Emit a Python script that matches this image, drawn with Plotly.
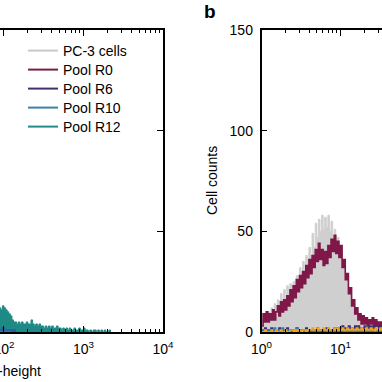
import plotly.graph_objects as go

# ---------------- data ----------------
# Panel b: log10 positions of histogram channels (left bin edges)
b_log_bins = [0.00, 0.02, 0.04, 0.06, 0.08, 0.10, 0.12, 0.14, 0.16, 0.18,
              0.20, 0.22, 0.24, 0.26, 0.28, 0.30, 0.32, 0.34, 0.36, 0.38,
              0.40, 0.42, 0.44, 0.46, 0.48, 0.50, 0.52, 0.54, 0.56, 0.58,
              0.60, 0.62, 0.64, 0.66, 0.68, 0.70, 0.72, 0.74, 0.76, 0.78,
              0.80, 0.82, 0.84, 0.86, 0.88, 0.90, 0.92, 0.94, 0.96, 0.98,
              1.00, 1.02, 1.04, 1.06, 1.08, 1.10, 1.12, 1.14, 1.16, 1.18,
              1.20, 1.22, 1.24, 1.26, 1.28, 1.30, 1.32, 1.34, 1.36, 1.38,
              1.40, 1.42, 1.44, 1.46, 1.48, 1.50, 1.52, 1.54]

b_pc3 = [6, 3, 8, 4, 10, 5, 12, 7, 14, 9,
         16, 11, 19, 13, 21, 15, 23, 17, 24, 19,
         25, 20, 28, 23, 32, 26, 35, 29, 38, 32,
         42, 37, 49, 42, 54, 47, 56, 50, 58, 51,
         57, 52, 58, 50, 55, 47, 51, 43, 47, 39,
         43, 34, 35, 26, 28, 20, 21, 13, 14, 9,
         11, 6, 8, 4, 7, 3, 6, 3, 5, 2,
         4, 2, 3, 2, 3, 2, 3, 2]

b_r0 = [3, 9, 5, 10, 5, 9, 6, 11, 6, 10,
        13, 8, 15, 10, 16, 11, 18, 13, 21, 15,
        23, 17, 26, 20, 28, 22, 30, 24, 33, 27,
        36, 29, 38, 32, 41, 35, 44, 36, 41, 33,
        40, 34, 43, 37, 46, 40, 48, 39, 45, 37,
        43, 32, 36, 26, 29, 19, 22, 13, 16, 9,
        12, 6, 9, 4, 8, 4, 7, 3, 6, 4,
        7, 3, 6, 3, 5, 3, 5, 3]

b_r6 = [1, 0, 2, 1, 0, 1, 2, 0, 1, 1,
        0, 2, 1, 0, 1, 0, 2, 1, 0, 1,
        1, 0, 2, 0, 1, 1, 0, 1, 2, 0,
        1, 0, 1, 1, 0, 2, 1, 0, 1, 0,
        1, 2, 1, 0, 1, 1, 2, 1, 2, 1,
        2, 3, 2, 1, 2, 3, 2, 1, 2, 3,
        2, 3, 2, 1, 2, 3, 2, 2, 3, 2,
        3, 2, 3, 3, 2, 3, 2, 3]

b_r10 = [0, 1, 0, 0, 1, 0, 0, 1, 2, 0,
         0, 1, 0, 2, 1, 0, 0, 1, 0, 0,
         1, 0, 2, 0, 1, 0, 0, 1, 0, 1,
         0, 0, 1, 0, 0, 1, 0, 1, 0, 0,
         1, 0, 0, 1, 0, 0, 1, 0, 1, 0,
         0, 1, 0, 0, 1, 0, 1, 0, 0, 1,
         0, 1, 0, 1, 0, 0, 1, 0, 1, 0,
         1, 0, 0, 1, 0, 1, 0, 1]

b_r12 = [0, 0, 1, 0, 0, 0, 1, 0, 0, 1,
         0, 0, 1, 0, 0, 1, 0, 0, 1, 1,
         0, 1, 0, 1, 1, 0, 1, 1, 0, 1,
         1, 1, 2, 1, 1, 2, 1, 1, 1, 2,
         1, 1, 2, 1, 1, 1, 2, 1, 2, 1,
         1, 2, 1, 1, 2, 1, 1, 2, 1, 1,
         2, 1, 1, 2, 1, 1, 2, 1, 1, 2,
         1, 1, 2, 1, 1, 2, 1, 1]

# Panel a (visible part): log10 channel positions
a_log_bins = [1.94, 1.96, 1.98, 2.00,
              2.02, 2.04, 2.06, 2.08, 2.10, 2.12, 2.14, 2.16, 2.18, 2.20,
              2.22, 2.24, 2.26, 2.28, 2.30, 2.32, 2.34, 2.36, 2.38, 2.40,
              2.42, 2.44, 2.46, 2.48, 2.50, 2.52, 2.54, 2.56, 2.58, 2.60,
              2.62, 2.64, 2.66, 2.68, 2.70, 2.72, 2.74, 2.76, 2.78, 2.80,
              2.82, 2.84, 2.86, 2.88, 2.90, 2.92, 2.94, 2.96, 2.98, 3.00,
              3.02, 3.04, 3.06, 3.08, 3.10, 3.12, 3.14, 3.16, 3.18, 3.20,
              3.22, 3.24, 3.26, 3.28, 3.30, 3.32, 3.34]

a_r12 = [12, 11, 13, 12,
         11, 10, 9, 8, 6, 5, 5, 4, 5, 4,
         5, 4, 4, 5, 4, 4, 6, 4, 3, 4,
         3, 4, 3, 3, 2, 3, 2, 3, 2, 3,
         2, 2, 3, 2, 2, 1, 2, 1, 2, 1,
         2, 1, 1, 2, 1, 1, 2, 1, 1, 2,
         1, 1, 0, 1, 0, 1, 1, 0, 1, 0,
         1, 0, 1, 0, 0, 1, 0]

a_r10 = [1, 1, 2, 1, 1, 1, 1, 1, 0, 1, 0]

legend_names = ["PC-3 cells", "Pool R0", "Pool R6", "Pool R10", "Pool R12"]
legend_colors = ["#c9c9c9", "#7a1e48", "#44306f", "#3585a8", "#218b8b"]

a_tickvals = [100, 1000, 10000]
a_ticktext = ["10<sup>2</sup>", "10<sup>3</sup>", "10<sup>4</sup>"]
a_minor = [200, 300, 400, 500, 600, 700, 800, 900,
           2000, 3000, 4000, 5000, 6000, 7000, 8000, 9000]
b_tickvals = [1, 10, 100]
b_ticktext = ["10<sup>0</sup>", "10<sup>1</sup>", "10<sup>2</sup>"]
b_minor = [2, 3, 4, 5, 6, 7, 8, 9, 20, 30, 40, 50, 60, 70, 80, 90]
y_ticks = [0, 50, 100, 150]

# ---------------- figure ----------------
FONT = "Liberation Sans, Arial, Helvetica, sans-serif"
W = H = 382
fig = go.Figure()

bx = [10 ** v for v in b_log_bins]
ax_ = [10 ** v for v in a_log_bins]

fig.add_trace(go.Scatter(x=bx, y=b_pc3, xaxis="x2", yaxis="y2", mode="lines",
                         line=dict(shape="hv", color="#cfcfcf", width=1),
                         fill="tozeroy", fillcolor="#cfcfcf", showlegend=False))
fig.add_trace(go.Scatter(x=bx, y=b_r0, xaxis="x2", yaxis="y2", mode="lines",
                         line=dict(shape="hv", color="#7f1848", width=1.6), showlegend=False))
fig.add_trace(go.Scatter(x=bx, y=b_r6, xaxis="x2", yaxis="y2", mode="lines",
                         line=dict(shape="hv", color="#3b2c74", width=1.5), showlegend=False))
fig.add_trace(go.Scatter(x=bx, y=b_r10, xaxis="x2", yaxis="y2", mode="lines",
                         line=dict(shape="hv", color="#2f7fb0", width=1.5), showlegend=False))
fig.add_trace(go.Scatter(x=bx, y=b_r12, xaxis="x2", yaxis="y2", mode="lines",
                         line=dict(shape="hv", color="#f2a51a", width=1.5), showlegend=False))

fig.add_trace(go.Scatter(x=ax_, y=a_r12, xaxis="x", yaxis="y", mode="lines",
                         line=dict(shape="hv", color="#1d8a86", width=1),
                         fill="tozeroy", fillcolor="#1d8a86", showlegend=False))
fig.add_trace(go.Scatter(x=ax_[:len(a_r10)], y=a_r10, xaxis="x", yaxis="y", mode="lines",
                         line=dict(shape="hv", color="#2c58a0", width=1.5), showlegend=False))

# legend entries (one small legend per row so rows can sit 19 px apart)
row_y = [51, 70, 89, 108, 127]
legends = {}
for i, (nm, col) in enumerate(zip(legend_names, legend_colors)):
    key = "legend" if i == 0 else f"legend{i+1}"
    fig.add_trace(go.Scatter(x=[None], y=[None], xaxis="x", yaxis="y", mode="lines",
                             name=nm, line=dict(color=col, width=2),
                             legend=key, showlegend=True))
    legends[key] = dict(x=23 / W, xanchor="left", y=1 - row_y[i] / H, yanchor="middle",
                        bgcolor="rgba(0,0,0,0)", borderwidth=0,
                        font=dict(family=FONT, size=14, color="black"))

axis_common = dict(showline=True, linecolor="black", linewidth=1.5, ticks="inside",
                   tickcolor="black", tickwidth=1.2, showgrid=False, zeroline=False,
                   automargin=False, ticklabeloverflow="allow",
                   tickfont=dict(family=FONT, size=14, color="black"))
ydom = [50 / H, 352 / H]

fig.update_layout(
    width=W, height=H, margin=dict(l=0, r=0, t=0, b=0, autoexpand=False),
    paper_bgcolor="white", plot_bgcolor="white",
    xaxis=dict(axis_common, type="log", domain=[0, 163 / W], range=[1.95, 4.0],
               anchor="y", tickmode="array", tickvals=a_tickvals, ticktext=a_ticktext,
               mirror="ticks", ticklen=6, ticklabelstandoff=3,
               minor=dict(tickmode="array", tickvals=a_minor, ticks="inside",
                          ticklen=3, tickcolor="black", tickwidth=1, showgrid=False)),
    yaxis=dict(axis_common, domain=ydom, range=[0, 150], side="right", anchor="x",
               tickmode="array", tickvals=y_ticks, showticklabels=False, ticklen=6),
    xaxis2=dict(axis_common, type="log", domain=[261.5 / W, 1], range=[0, 1.525],
                anchor="y2", tickmode="array", tickvals=b_tickvals, ticktext=b_ticktext,
                mirror="ticks", ticklen=6, ticklabelstandoff=3,
                minor=dict(tickmode="array", tickvals=b_minor, ticks="inside",
                           ticklen=3, tickcolor="black", tickwidth=1, showgrid=False)),
    yaxis2=dict(axis_common, domain=ydom, range=[0, 150], anchor="x2",
                tickmode="array", tickvals=y_ticks, ticklen=6, ticklabelstandoff=4),
    annotations=[
        dict(text="<b>b</b>", x=209.5 / W, y=1 - 11.5 / H, xref="paper", yref="paper",
             showarrow=False, xanchor="center", yanchor="middle",
             font=dict(family=FONT, size=19, color="black")),
        dict(text="Cell counts", x=212 / W, y=1 - 181 / H, xref="paper", yref="paper",
             showarrow=False, textangle=-90, xanchor="center", yanchor="middle",
             font=dict(family=FONT, size=14, color="black")),
        dict(text="FL1-height", x=43 / W, y=1 - 371 / H, xref="paper", yref="paper",
             showarrow=False, xanchor="right", yanchor="middle",
             font=dict(family=FONT, size=14, color="black")),
    ],
    **legends,
)

fig.write_html("out.html", config={"displayModeBar": False},
               post_script="document.body.style.margin='0';document.body.style.overflow='hidden';")
